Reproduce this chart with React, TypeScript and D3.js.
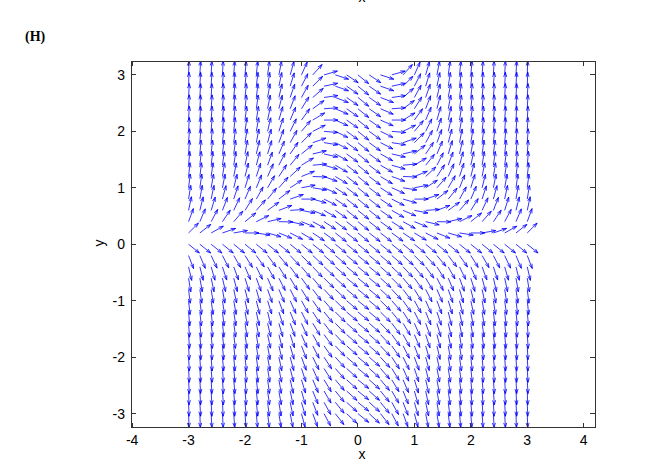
import React from "react";
import * as d3 from "d3";

// grid of arrow tails (x columns, y rows)
const xs = [-3, -2.8, -2.6, -2.4, -2.2, -2, -1.8, -1.6, -1.4, -1.2, -1, -0.8, -0.6, -0.4, -0.2, 0,
  0.2, 0.4, 0.6, 0.8, 1, 1.2, 1.4, 1.6, 1.8, 2, 2.2, 2.4, 2.6, 2.8, 3];
const ys = [3, 2.8, 2.6, 2.4, 2.2, 2, 1.8, 1.6, 1.4, 1.2, 1, 0.8, 0.6, 0.4, 0.2, 0,
  -0.2, -0.4, -0.6, -0.8, -1, -1.2, -1.4, -1.6, -1.8, -2, -2.2, -2.4, -2.6, -2.8, -3];

// arrow direction (degrees) read per row, top row first, left to right
const angles = [
  [88,87,87,87,86,85,84,82,79,74,66,48,16,-18,-34,-39,-34,-18,16,48,66,74,79,82,84,85,86,87,87,87,88],
  [88,87,87,86,86,85,83,81,78,73,63,45,12,-19,-35,-39,-35,-19,12,45,63,73,78,81,83,85,86,86,87,87,88],
  [87,87,87,86,85,84,83,80,77,71,61,41,8,-21,-35,-39,-35,-21,8,41,61,71,77,80,83,84,85,86,87,87,87],
  [87,87,86,86,85,84,82,79,76,69,58,36,4,-23,-35,-39,-35,-23,4,36,58,69,76,79,82,84,85,86,86,87,87],
  [87,87,86,85,84,83,81,78,74,67,54,31,0,-24,-35,-39,-35,-24,0,31,54,67,74,78,81,83,84,85,86,87,87],
  [87,86,86,85,84,82,80,77,72,64,50,26,-5,-26,-36,-39,-36,-26,-5,26,50,64,72,77,80,82,84,85,86,86,87],
  [86,86,85,84,83,81,79,75,70,61,45,19,-9,-27,-36,-39,-36,-27,-9,19,45,61,70,75,79,81,83,84,85,86,86],
  [86,85,84,83,82,80,77,73,67,56,39,13,-13,-29,-36,-39,-36,-29,-13,13,39,56,67,73,77,80,82,83,84,85,86],
  [85,84,83,82,81,78,75,70,63,51,31,5,-16,-30,-37,-39,-37,-30,-16,5,31,51,63,70,75,78,81,82,83,84,85],
  [84,83,82,81,79,76,72,66,57,43,22,-2,-20,-31,-37,-39,-37,-31,-20,-2,22,43,57,66,72,76,79,81,82,83,84],
  [83,82,80,79,76,73,68,60,49,33,11,-9,-24,-33,-37,-39,-37,-33,-24,-9,11,33,49,60,68,73,76,79,80,82,83],
  [81,80,78,75,72,67,61,51,38,19,0,-16,-27,-34,-38,-39,-38,-34,-27,-16,0,19,38,51,61,67,72,75,78,80,81],
  [78,76,73,69,65,58,49,36,21,4,-11,-23,-30,-35,-38,-39,-38,-35,-30,-23,-11,4,21,36,49,58,65,69,73,76,78],
  [70,67,62,56,49,39,26,13,-1,-13,-22,-29,-33,-36,-38,-39,-38,-36,-33,-29,-22,-13,-1,13,26,39,49,56,62,67,70],
  [45,38,29,19,10,0,-9,-16,-22,-27,-31,-34,-36,-38,-38,-39,-38,-38,-36,-34,-31,-27,-22,-16,-9,0,10,19,29,38,45],
  [-39,-39,-39,-39,-39,-39,-39,-39,-39,-39,-39,-39,-39,-39,-39,-39,-39,-39,-39,-39,-39,-39,-39,-39,-39,-39,-39,-39,-39,-39,-39],
  [-69,-67,-65,-63,-60,-58,-55,-53,-50,-47,-45,-43,-41,-40,-39,-39,-39,-40,-41,-43,-45,-47,-50,-53,-55,-58,-60,-63,-65,-67,-69],
  [-77,-76,-74,-72,-70,-67,-64,-61,-58,-54,-50,-47,-43,-41,-39,-39,-39,-41,-43,-47,-50,-54,-58,-61,-64,-67,-70,-72,-74,-76,-77],
  [-81,-80,-78,-77,-75,-73,-70,-67,-63,-59,-54,-50,-45,-42,-39,-39,-39,-42,-45,-50,-54,-59,-63,-67,-70,-73,-75,-77,-78,-80,-81],
  [-83,-82,-81,-80,-78,-76,-74,-71,-67,-63,-58,-53,-47,-43,-40,-39,-40,-43,-47,-53,-58,-63,-67,-71,-74,-76,-78,-80,-81,-82,-83],
  [-84,-83,-82,-81,-80,-78,-76,-73,-70,-66,-61,-55,-49,-44,-40,-39,-40,-44,-49,-55,-61,-66,-70,-73,-76,-78,-80,-81,-82,-83,-84],
  [-85,-84,-84,-83,-81,-80,-78,-76,-72,-68,-63,-57,-51,-45,-40,-39,-40,-45,-51,-57,-63,-68,-72,-76,-78,-80,-81,-83,-84,-84,-85],
  [-86,-85,-84,-84,-82,-81,-79,-77,-74,-70,-66,-59,-53,-46,-41,-39,-41,-46,-53,-59,-66,-70,-74,-77,-79,-81,-82,-84,-84,-85,-86],
  [-86,-86,-85,-84,-83,-82,-81,-78,-76,-72,-67,-61,-54,-47,-41,-39,-41,-47,-54,-61,-67,-72,-76,-78,-81,-82,-83,-84,-85,-86,-86],
  [-87,-86,-86,-85,-84,-83,-81,-80,-77,-74,-69,-63,-55,-47,-41,-39,-41,-47,-55,-63,-69,-74,-77,-80,-81,-83,-84,-85,-86,-86,-87],
  [-87,-87,-86,-85,-85,-84,-82,-80,-78,-75,-70,-64,-57,-48,-41,-39,-41,-48,-57,-64,-70,-75,-78,-80,-82,-84,-85,-85,-86,-87,-87],
  [-87,-87,-86,-86,-85,-84,-83,-81,-79,-76,-72,-66,-58,-49,-42,-39,-42,-49,-58,-66,-72,-76,-79,-81,-83,-84,-85,-86,-86,-87,-87],
  [-87,-87,-87,-86,-85,-85,-83,-82,-80,-77,-73,-67,-59,-50,-42,-39,-42,-50,-59,-67,-73,-77,-80,-82,-83,-85,-85,-86,-87,-87,-87],
  [-88,-87,-87,-86,-86,-85,-84,-82,-80,-78,-74,-68,-60,-51,-42,-39,-42,-51,-60,-68,-74,-78,-80,-82,-84,-85,-86,-86,-87,-87,-88],
  [-88,-87,-87,-87,-86,-85,-84,-83,-81,-78,-74,-69,-61,-51,-42,-39,-42,-51,-61,-69,-74,-78,-81,-83,-84,-85,-86,-87,-87,-87,-88],
  [-88,-88,-87,-87,-86,-86,-85,-83,-81,-79,-75,-70,-62,-52,-43,-39,-43,-52,-62,-70,-75,-79,-81,-83,-85,-86,-86,-87,-87,-88,-88],
];

const xTicks = [-4, -3, -2, -1, 0, 1, 2, 3, 4];
const yTicks = [-3, -2, -1, 0, 1, 2, 3];

const W = 647, H = 462;
const left = 131, right = 595, top = 61, bottom = 427.5;
const arrowLen = 0.2463; // quiver autoscale of unit vectors
const alpha = 0.33, beta = 0.33;
const font = "'Liberation Sans', Arial, Helvetica, sans-serif";

export default function App() {
  const x = d3.scaleLinear().domain([-4.02, 4.2]).range([left, right]);
  const y = d3.scaleLinear().domain([-3.246, 3.246]).range([bottom, top]);

  // build the quiver path
  const p = d3.path();
  ys.forEach((yv, i) => {
    xs.forEach((xv, j) => {
      const a = (angles[i][j] * Math.PI) / 180;
      const u = arrowLen * Math.cos(a), v = arrowLen * Math.sin(a);
      const tx = xv + u, ty = yv + v;
      p.moveTo(x(xv), y(yv));
      p.lineTo(x(tx), y(ty));
      p.moveTo(x(tx - alpha * (u + beta * v)), y(ty - alpha * (v - beta * u)));
      p.lineTo(x(tx), y(ty));
      p.lineTo(x(tx - alpha * (u - beta * v)), y(ty - alpha * (v + beta * u)));
    });
  });

  const tick = 5;
  return (
    <svg width={W} height={H} style={{ position: "absolute", left: 0, top: 0, background: "#fff" }}>
      <rect width={W} height={H} fill="#fff" />
      <defs>
        <clipPath id="plotClip">
          <rect x={left} y={top} width={right - left} height={bottom - top} />
        </clipPath>
      </defs>

      <text x={362} y={2} fontFamily={font} fontSize={14} textAnchor="middle">x</text>
      <text x={25} y={41} fontFamily="'Liberation Serif', 'Times New Roman', serif" fontWeight="bold" fontSize={14}>(H)</text>

      <g clipPath="url(#plotClip)">
        <path d={p.toString()} fill="none" stroke="#0000ff" strokeWidth={0.8} />
      </g>

      <g stroke="#333" strokeWidth={1} shapeRendering="crispEdges">
        <rect x={left} y={top} width={right - left} height={bottom - top} fill="none" />
        {xTicks.map((t) => (
          <g key={"xt" + t}>
            <line x1={x(t)} x2={x(t)} y1={bottom} y2={bottom - tick} />
            <line x1={x(t)} x2={x(t)} y1={top} y2={top + tick} />
          </g>
        ))}
        {yTicks.map((t) => (
          <g key={"yt" + t}>
            <line x1={left} x2={left + tick} y1={y(t)} y2={y(t)} />
            <line x1={right} x2={right - tick} y1={y(t)} y2={y(t)} />
          </g>
        ))}
      </g>

      <g fontFamily={font} fontSize={14} fill="#000">
        {xTicks.map((t) => (
          <text key={"xl" + t} x={x(t)} y={445} textAnchor="middle">{t}</text>
        ))}
        {yTicks.map((t) => (
          <text key={"yl" + t} x={125} y={y(t)} dy="0.35em" textAnchor="end">{t}</text>
        ))}
        <text x={362} y={459} textAnchor="middle">x</text>
        <text transform="translate(104,243) rotate(-90)" textAnchor="middle">y</text>
      </g>
    </svg>
  );
}
